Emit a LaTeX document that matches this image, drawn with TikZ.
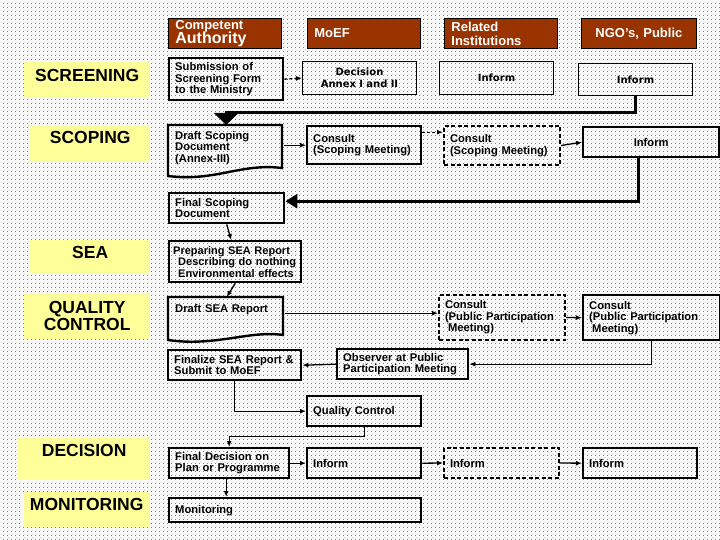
\documentclass[tikz,border=0pt]{standalone}
\usepackage{fontspec}
\setmainfont{Liberation Sans}
\newfontfamily\decfamily{DejaVu Sans}
\usepackage{tikz}
\usetikzlibrary{arrows.meta,patterns.meta}
\definecolor{hdrbrown}{RGB}{153,51,0}
\definecolor{stageyellow}{RGB}{255,255,153}
\definecolor{dotgray}{RGB}{120,120,120}
\newcommand{\procfont}{\fontsize{11.2}{11.5}\selectfont\bfseries}
\newcommand{\decfont}{\decfamily\fontsize{10}{11.5}\selectfont\bfseries}
\newcommand{\hdrfont}{\fontsize{13}{14}\selectfont\bfseries}
\newcommand{\stagefont}{\fontsize{17.5}{17}\selectfont\bfseries}
\tikzdeclarepattern{
  name=bgdots, type=uncolored,
  bounding box={(0pt,0pt) and (4pt,4pt)},
  tile size={(4pt,4pt)},
  code={
    \pgfpathrectangle{\pgfpointorigin}{\pgfqpoint{1pt}{1pt}}
    \pgfpathrectangle{\pgfqpoint{2pt}{2pt}}{\pgfqpoint{1pt}{1pt}}
    \pgfusepath{fill}
  }
}
\tikzset{
  stage/.style={fill=stageyellow, font=\stagefont, anchor=north west, inner sep=0pt, align=center},
  hdr/.style={draw=black, line width=0.8pt, fill=hdrbrown, text=white, anchor=north west,
              inner xsep=7pt, inner ysep=0pt, align=left, font=\hdrfont},
  proc/.style={draw=black, line width=2.4pt, anchor=north west, inner xsep=6pt, inner ysep=0pt,
               align=left, font=\procfont},
  thinproc/.style={proc, line width=1pt, align=center, font=\decfont},
  dashproc/.style={proc, line width=2pt, dash pattern=on 4pt off 2.5pt},
  docbox/.style={draw=black, line width=2.4pt},
  flow/.style={-{Latex[length=6pt,width=5pt]}, line width=1.3pt},
  dflow/.style={flow, dash pattern=on 3pt off 2pt},
  back/.style={-{Triangle[length=12pt,width=14pt]}, line width=3pt},
}

\begin{document}
\begin{tikzpicture}[x=1pt, y=-1pt]
  \fill[white] (0,0) rectangle (720,540);
  \fill[pattern=bgdots, pattern color=dotgray] (0,0) rectangle (720,540);
  \useasboundingbox (0,0) rectangle (720,540);

  % column heads
  \node[hdr, text width=99pt, minimum height=30pt] (ca) at (168,18)
       {Competent\\[-1pt]{\fontsize{16}{16}\selectfont Authority}};
  \node[hdr, text width=99pt, minimum height=30pt] (moef) at (307,18) {MoEF};
  \node[hdr, text width=99pt, minimum height=30pt] (rel) at (444,18) {Related\\Institutions};
  \node[hdr, text width=101pt, minimum height=30pt, align=center] (ngo) at (581,18) {NGO's, Public};

  % stages
  \node[stage, minimum width=126pt, text height=19pt, text depth=16pt] (screening) at (24,62) {SCREENING};
  \node[stage, minimum width=120pt, text height=18pt, text depth=19pt] (scoping) at (30,125) {SCOPING};
  \node[stage, minimum width=120pt, text height=18pt, text depth=15pt] (sea) at (30,240) {SEA};
  \node[stage, minimum width=126pt, minimum height=46pt] (quality) at (24,293) {QUALITY\\CONTROL};
  \node[stage, minimum width=132pt, text height=18pt, text depth=24pt] (decision) at (18,438) {DECISION};
  \node[stage, minimum width=127pt, text height=18pt, text depth=17pt] (monitoring) at (23,492) {MONITORING};

  % document outlines
  \draw[docbox] (168,125) -- (282,125) -- (282,168)
       .. controls (240,163) and (215,182) .. (168,176) -- cycle;
  \draw[docbox] (168,297) -- (283,297) -- (283,335)
       .. controls (250,330) and (215,347) .. (168,340) -- cycle;

  % screening
  \node[proc, text width=102pt, minimum height=42pt] (sub) at (168,57) {Submission of\\Screening Form\\to the Ministry};
  \node[thinproc, text width=102pt, minimum height=33pt] (dec) at (302,61) {Decision\\Annex I and II};
  \node[thinproc, text width=102pt, minimum height=33pt] (relinf) at (439,61) {Inform};
  \node[thinproc, text width=102pt, minimum height=32pt] (ngoinf) at (578,63) {Inform};

  % scoping
  \node[proc, draw=none, text width=102pt, minimum height=43pt] (dscop) at (168,125) {Draft Scoping\\Document\\(Annex-III)};
  \node[proc, text width=102pt, minimum height=38pt] (mcons) at (306,125) {Consult\\(Scoping Meeting)};
  \node[dashproc, text width=104pt, minimum height=39pt] (rcons) at (443,125) {Consult\\(Scoping Meeting)};
  \node[proc, text width=124pt, minimum height=30pt, align=center] (ninf2) at (582,126) {Inform};
  \node[proc, text width=103pt, minimum height=30pt] (fscop) at (168,192) {Final Scoping\\Document};

  % sea and quality control
  \node[proc, inner xsep=4pt, text width=124pt, minimum height=41pt, font=\fontsize{11}{11.5}\selectfont\bfseries] (prep) at (168,240)
       {Preparing SEA Report\\\hspace*{5pt}Describing do nothing\\\hspace*{5pt}Environmental effects};
  \node[proc, draw=none, text width=103pt, text height=14pt, text depth=24pt] (dsea) at (168,297) {Draft SEA Report};
  \node[dashproc, text width=114pt, minimum height=45pt] (pcons) at (438,294)
       {Consult\\(Public Participation\\\hspace*{3pt}Meeting)};
  \node[proc, text width=125pt, minimum height=45pt] (ncons) at (582,294)
       {Consult\\(Public Participation\\\hspace*{3pt}Meeting)};
  \node[proc, text width=119pt, minimum height=30pt] (obs) at (336,348) {Observer at Public\\Participation Meeting};
  \node[proc, text width=121pt, minimum height=30pt] (fin) at (167,349) {Finalize SEA Report \&\\Submit to MoEF};
  \node[proc, text width=102pt, minimum height=30pt] (qc) at (306,395) {Quality Control};

  % decision and monitoring
  \node[proc, text width=108pt, minimum height=30pt] (fdec) at (168,447) {Final Decision on\\Plan or Programme};
  \node[proc, text width=102pt, minimum height=30pt] (minf) at (306,447) {Inform};
  \node[dashproc, text width=103pt, minimum height=30pt] (rinf) at (443,447) {Inform};
  \node[proc, text width=102pt, minimum height=30pt] (ninf3) at (582,447) {Inform};
  \node[proc, text width=240pt, minimum height=24pt] (mon) at (168,497) {Monitoring};

  % connectors
  \draw[dflow] (sub.east) -- (dec.west);
  \draw[back, -{Triangle[length=12pt,width=24pt]}] (ngoinf.south) -- ++(0,17) -| (dscop.north);
  \draw[flow] (dscop.east |- mcons.west) -- (mcons.west);
  \draw[dflow] ([yshift=13pt]mcons.east) -- ([yshift=13pt]mcons.east -| rcons.west);
  \draw[flow] (rcons.east) -- (ninf2.west);
  \draw[back] ([xshift=-13pt]ninf2.south) |- ([yshift=7pt]fscop.east);
  \draw[flow] (fscop.south) -- ([xshift=-4pt]prep.north);
  \draw[flow] (prep.south) -- (dsea.north);
  \draw[flow] ([yshift=4pt]dsea.east) -- ([yshift=4pt]dsea.east -| pcons.west);
  \draw[flow] (pcons.east) -- (ncons.west);
  \draw[flow] (ncons.south) |- (obs.east);
  \draw[flow] (obs.west) -- (fin.east);
  \draw[flow] (fin.south) |- (qc.west);
  \draw[flow] (qc.south) -- ++(0,9) -| (fdec.north);
  \draw[flow] (fdec.east) -- (minf.west);
  \draw[flow] (minf.east) -- (rinf.west);
  \draw[flow] (rinf.east) -- (ninf3.west);
  \draw[flow] ([xshift=-3pt]fdec.south) -- ([xshift=-3pt]fdec.south |- mon.north);
\end{tikzpicture}
\end{document}
